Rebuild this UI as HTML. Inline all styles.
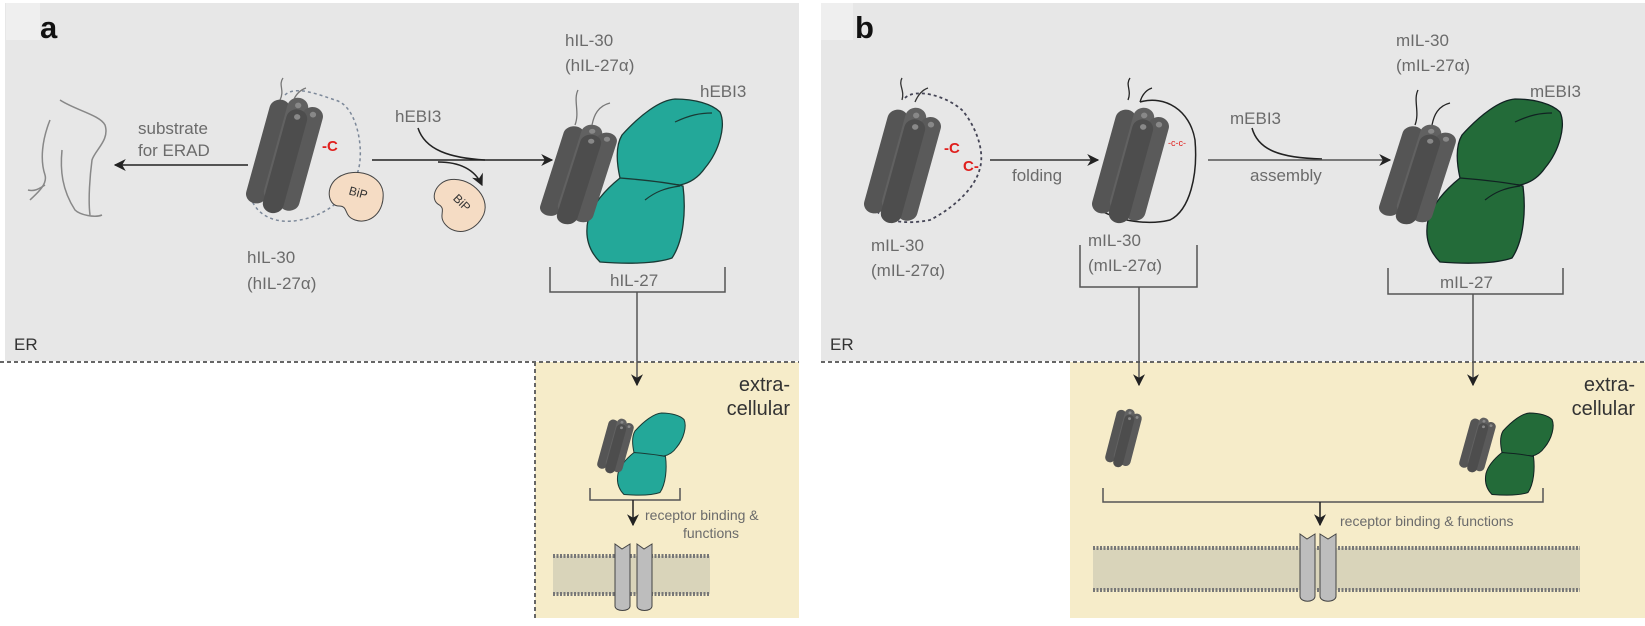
<!DOCTYPE html>
<html><head><meta charset="utf-8"><style>
html,body{margin:0;padding:0;background:#fff;}
svg{display:block;font-family:"Liberation Sans",Arial,sans-serif;}
.t{fill:#6b6b6b;font-size:17px;}
.s{fill:#6b6b6b;font-size:14px;}
</style></head><body>
<svg width="1645" height="626" viewBox="0 0 1645 626" xmlns="http://www.w3.org/2000/svg">
<defs>
<marker id="ah" viewBox="0 0 10 10" refX="9" refY="5" markerWidth="8" markerHeight="8" orient="auto-start-reverse"><path d="M0,0 L10,5 L0,10 L3,5 z" fill="#222"/></marker>
<g id="bun">
 <g transform="rotate(14 37 65)">
  <rect x="6" y="14" width="20" height="112" rx="10" fill="#555"/>
  <rect x="22" y="8" width="20" height="112" rx="10" fill="#616161"/>
  <rect x="38" y="14" width="20" height="112" rx="10" fill="#5a5a5a"/>
  <rect x="24" y="20" width="20" height="112" rx="10" fill="#4d4d4d"/>
  <circle cx="32" cy="16" r="3" fill="#888"/><circle cx="48" cy="22" r="3" fill="#888"/><circle cx="34" cy="28" r="3" fill="#888"/>
 </g>
</g>
<g id="bip">
 <path d="M10,10 C25,-4 55,2 58,22 C60,42 45,55 30,50 C18,46 24,36 14,36 C4,36 0,20 10,10 z" fill="#f5dcc4" stroke="#444" stroke-width="1"/>
 <text x="24" y="26" font-size="12" fill="#333" transform="rotate(15 30 22)">BiP</text>
</g>
<g id="blob">
 <path d="M622,135 C640,115 660,100 675,99 C695,99 712,104 720,112 C726,125 720,150 705,168 C698,178 690,183 680,185 C660,183 635,182 620,178 C616,160 616,145 622,135 z"/>
 <path d="M620,178 C645,180 665,182 683,186 C686,210 684,240 672,258 C655,264 625,264 600,262 C588,250 585,235 588,220 C592,205 605,190 620,178 z"/>
</g>
</defs>

<!-- panels -->
<rect x="5" y="3" width="794" height="358" fill="#e7e7e7"/>
<rect x="6" y="3" width="34" height="37" fill="#efefef"/>
<rect x="821" y="3" width="824" height="358" fill="#e7e7e7"/>
<rect x="821" y="3" width="32" height="37" fill="#efefef"/>
<rect x="535" y="362" width="264" height="256" fill="#f6ecc9"/>
<rect x="1070" y="362" width="575" height="256" fill="#f6ecc9"/>
<line x1="0" y1="362" x2="799" y2="362" stroke="#666" stroke-width="2" stroke-dasharray="4,3"/>
<line x1="821" y1="362" x2="1645" y2="362" stroke="#666" stroke-width="2" stroke-dasharray="4,3"/>
<line x1="535" y1="362" x2="535" y2="618" stroke="#666" stroke-width="2" stroke-dasharray="4,3"/>

<text x="40" y="38" font-size="31" font-weight="bold" fill="#111">a</text>
<text x="855" y="38" font-size="31" font-weight="bold" fill="#111">b</text>
<text x="14" y="350" font-size="17" fill="#333">ER</text>
<text x="830" y="350" font-size="17" fill="#333">ER</text>

<!-- panel a -->
<g fill="none" stroke="#888" stroke-width="1.5">
 <path d="M60,100 C75,110 100,115 105,125 C110,140 95,150 92,160 C90,175 88,200 90,215"/>
 <path d="M50,120 C42,140 40,160 45,175 C48,185 35,195 30,200"/>
 <path d="M62,150 C60,170 62,190 75,210 C80,215 95,218 102,215"/>
 <path d="M28,190 C35,192 40,188 45,185"/>
</g>
<text class="t" x="138" y="134">substrate</text>
<text class="t" x="138" y="156">for ERAD</text>
<line x1="248" y1="165" x2="115" y2="165" stroke="#222" stroke-width="1.5" marker-end="url(#ah)"/>
<path d="M285,95 C295,85 320,95 335,100 C355,105 362,140 360,160 C358,190 330,215 300,220 C275,225 255,215 250,195" fill="none" stroke="#7c8899" stroke-width="1.5" stroke-dasharray="3,3"/>
<g fill="none" stroke="#777" stroke-width="1.3"><path d="M280,100 C285,90 278,85 283,78"/><path d="M293,102 C295,95 300,90 306,88"/></g>
<use href="#bun" transform="translate(252,90) scale(1.05,0.95)"/>
<text x="322" y="151" font-size="15" font-weight="bold" fill="#e0201e">-C</text>
<use href="#bip" transform="translate(325,170)"/>
<text class="t" x="395" y="122">hEBI3</text>
<path d="M418,128 C425,150 450,158 485,160" fill="none" stroke="#222" stroke-width="1.5"/>
<line x1="372" y1="160" x2="552" y2="160" stroke="#222" stroke-width="1.5" marker-end="url(#ah)"/>
<path d="M438,162 C460,162 475,170 482,185" fill="none" stroke="#222" stroke-width="1.5" marker-end="url(#ah)"/>
<use href="#bip" transform="translate(428,178) rotate(30 30 25)"/>
<text class="t" x="247" y="263">hIL-30</text>
<text class="t" x="247" y="289">(hIL-27α)</text>
<text class="t" x="565" y="46">hIL-30</text>
<text class="t" x="565" y="71">(hIL-27α)</text>
<text class="t" x="700" y="97">hEBI3</text>
<g fill="#23a899" stroke="#1a3a35" stroke-width="1.3"><use href="#blob"/></g>
<g fill="none" stroke="#1a3a35" stroke-width="1.2"><path d="M675,122 C690,115 700,113 712,113"/><path d="M645,200 C655,192 665,188 680,186"/></g>
<g fill="none" stroke="#777" stroke-width="1.3"><path d="M575,125 C580,112 573,100 578,90"/><path d="M592,125 C594,115 598,106 610,103"/></g>
<use href="#bun" transform="translate(546,118) scale(1.05,0.82)"/>
<path d="M550,267 V292 H725 V267" fill="none" stroke="#555" stroke-width="1.5"/>
<text class="t" x="610" y="286">hIL-27</text>
<line x1="637" y1="292" x2="637" y2="385" stroke="#555" stroke-width="1.5" marker-end="url(#ah)"/>
<text x="790" y="391" font-size="20" fill="#333" text-anchor="end">extra-</text>
<text x="790" y="415" font-size="20" fill="#333" text-anchor="end">cellular</text>
<g fill="#23a899" stroke="#1a3a35" stroke-width="2"><use href="#blob" transform="translate(617,413) scale(0.5) translate(-586,-99)"/></g>
<use href="#bun" transform="translate(600,415) scale(0.5,0.45)"/>
<path d="M590,488 V500 H680 V488" fill="none" stroke="#555" stroke-width="1.5"/>
<line x1="633" y1="500" x2="633" y2="525" stroke="#222" stroke-width="1.5" marker-end="url(#ah)"/>
<text class="s" x="645" y="520">receptor binding &amp;</text>
<text class="s" x="683" y="538">functions</text>
<rect x="553" y="556" width="157" height="38" fill="#d9d4ba"/>
<line x1="553" y1="556" x2="710" y2="556" stroke="#777" stroke-width="4" stroke-dasharray="2,1.5"/>
<line x1="553" y1="594" x2="710" y2="594" stroke="#777" stroke-width="4" stroke-dasharray="2,1.5"/>
<path d="M615,544 L622,549 L630,544 V606 C630,612 615,612 615,606 Z" fill="#bdbdbd" stroke="#444"/>
<path d="M637,544 L644,549 L652,544 V606 C652,612 637,612 637,606 Z" fill="#bdbdbd" stroke="#444"/>

<!-- panel b -->
<path d="M905,98 C915,88 945,95 962,110 C975,125 985,150 980,168 C975,190 950,210 930,220 C905,225 880,222 873,205" fill="none" stroke="#445" stroke-width="1.8" stroke-dasharray="3,3"/>
<g fill="none" stroke="#333" stroke-width="1.3"><path d="M902,100 C905,90 898,85 902,78"/><path d="M915,102 C918,95 922,90 928,88"/></g>
<use href="#bun" transform="translate(870,100) scale(1.05,0.95)"/>
<text x="944" y="153" font-size="15" font-weight="bold" fill="#e0201e">-C</text>
<text x="963" y="171" font-size="15" font-weight="bold" fill="#e0201e">C-</text>
<line x1="990" y1="160" x2="1098" y2="160" stroke="#333" stroke-width="1.5" marker-end="url(#ah)"/>
<text class="t" x="1012" y="181">folding</text>
<path d="M1140,102 C1165,95 1190,110 1195,140 C1198,175 1190,210 1170,220 C1150,225 1120,222 1100,210" fill="none" stroke="#222" stroke-width="1.5"/>
<g fill="none" stroke="#222" stroke-width="1.3"><path d="M1128,100 C1132,90 1125,85 1130,78"/><path d="M1140,102 C1142,95 1146,90 1152,88"/></g>
<use href="#bun" transform="translate(1098,100) scale(1.05,0.95)"/>
<text x="1168" y="146" font-size="9" fill="#e0201e">-c-c-</text>
<text class="t" x="1230" y="124">mEBI3</text>
<path d="M1252,128 C1258,150 1280,158 1322,159" fill="none" stroke="#222" stroke-width="1.5"/>
<line x1="1208" y1="160" x2="1390" y2="160" stroke="#555" stroke-width="1.5" marker-end="url(#ah)"/>
<text class="t" x="1250" y="181">assembly</text>
<text class="t" x="1396" y="46">mIL-30</text>
<text class="t" x="1396" y="71">(mIL-27α)</text>
<text class="t" x="1530" y="97">mEBI3</text>
<g fill="#236b39" stroke="#122" stroke-width="1.3"><use href="#blob" transform="translate(840,0)"/></g>
<g fill="none" stroke="#122" stroke-width="1.2"><path d="M1515,122 C1530,115 1540,113 1552,113"/><path d="M1485,200 C1495,192 1505,188 1520,186"/></g>
<g fill="none" stroke="#222" stroke-width="1.3"><path d="M1415,125 C1420,112 1413,100 1418,90"/><path d="M1432,125 C1434,115 1438,106 1450,103"/></g>
<use href="#bun" transform="translate(1385,118) scale(1.05,0.82)"/>
<text class="t" x="871" y="251">mIL-30</text>
<text class="t" x="871" y="276">(mIL-27α)</text>
<path d="M1080,245 V287 H1197 V245" fill="none" stroke="#555" stroke-width="1.5"/>
<text class="t" x="1088" y="246">mIL-30</text>
<text class="t" x="1088" y="271">(mIL-27α)</text>
<line x1="1139" y1="287" x2="1139" y2="385" stroke="#555" stroke-width="1.5" marker-end="url(#ah)"/>
<path d="M1388,268 V294 H1563 V268" fill="none" stroke="#555" stroke-width="1.5"/>
<text class="t" x="1440" y="288">mIL-27</text>
<line x1="1473" y1="294" x2="1473" y2="385" stroke="#555" stroke-width="1.5" marker-end="url(#ah)"/>
<text x="1635" y="391" font-size="20" fill="#333" text-anchor="end">extra-</text>
<text x="1635" y="415" font-size="20" fill="#333" text-anchor="end">cellular</text>
<use href="#bun" transform="translate(1108,405) scale(0.5,0.48)"/>
<g fill="#236b39" stroke="#122" stroke-width="2"><use href="#blob" transform="translate(1485,413) scale(0.5) translate(-586,-99)"/></g>
<use href="#bun" transform="translate(1462,414) scale(0.5,0.45)"/>
<path d="M1103,488 V502 H1543 V488" fill="none" stroke="#555" stroke-width="1.5"/>
<line x1="1320" y1="502" x2="1320" y2="525" stroke="#222" stroke-width="1.5" marker-end="url(#ah)"/>
<text class="s" x="1340" y="526">receptor binding &amp; functions</text>
<rect x="1093" y="548" width="487" height="42" fill="#d9d4ba"/>
<line x1="1093" y1="548" x2="1580" y2="548" stroke="#777" stroke-width="4" stroke-dasharray="2,1.5"/>
<line x1="1093" y1="590" x2="1580" y2="590" stroke="#777" stroke-width="4" stroke-dasharray="2,1.5"/>
<path d="M1300,534 L1307,539 L1315,534 V596 C1315,603 1300,603 1300,596 Z" fill="#bdbdbd" stroke="#444"/>
<path d="M1320,534 L1328,539 L1336,534 V596 C1336,603 1320,603 1320,596 Z" fill="#bdbdbd" stroke="#444"/>
</svg>
</body></html>
